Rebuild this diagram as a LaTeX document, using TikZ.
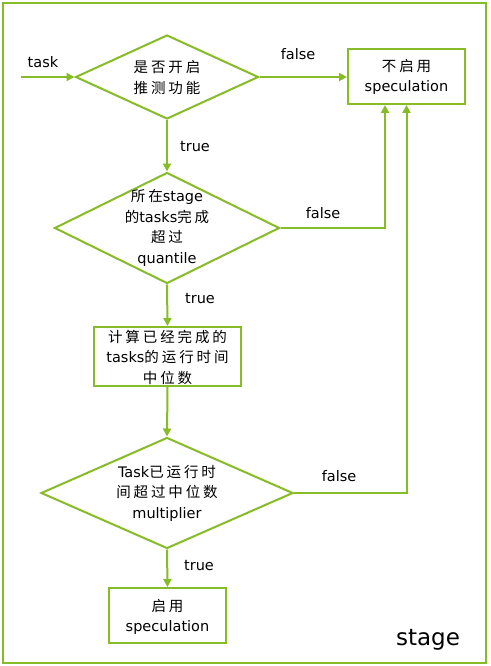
\documentclass[tikz,border=0pt]{standalone}
\usepackage{fontspec}
\setmainfont{DejaVu Sans}
\newfontfamily\cjk[LetterSpace=20]{Noto Sans CJK SC}
\usetikzlibrary{arrows.meta,shapes.geometric}
\definecolor{ngreen}{RGB}{134,188,37}
\begin{document}
\begin{tikzpicture}[x=1pt,y=-1pt,
  line width=2pt,
  every node/.style={font=\fontsize{14.5pt}{20.5pt}\selectfont},
  dia/.style={draw=ngreen,shape=diamond,inner sep=0pt,line width=2pt},
  box/.style={draw=ngreen,rectangle,inner sep=0pt,line width=2pt},
  txt/.style={align=center,inner sep=0pt},
  lbl/.style={inner sep=0pt},
  arr/.style={draw=ngreen,-{Triangle[length=8pt,width=8pt]}},
  ln/.style={draw=ngreen}
]
\useasboundingbox (0,0) rectangle (490,666);
\draw[ngreen,line width=2pt] (3,3) rectangle (486,663);

\node[dia,minimum width=183pt,minimum height=84pt] (d1) at (167,77) {};
\node[txt] (t1) at (167,77.5) {{\cjk 是否开启}\\{\cjk 推测功能}};

\node[box,minimum width=117pt,minimum height=55pt] (b1) at (406.5,76.5) {};
\node[txt] (tb1) at (406.5,77) {{\cjk 不启用}\\speculation};

\node[dia,minimum width=225pt,minimum height=111pt] (d2) at (167,228) {};
\node[txt] (t2) at (167,228) {{\cjk 所在}stage\\{\cjk 的}tasks{\cjk 完成}\\{\cjk 超过}\\quantile};

\node[box,minimum width=147pt,minimum height=59pt] (b3) at (167.5,356.5) {};
\node[txt] (tb3) at (167.5,357) {{\cjk 计算已经完成的}\\tasks{\cjk 的运行时间}\\{\cjk 中位数}};

\node[dia,minimum width=252pt,minimum height=111pt] (d3) at (167,493) {};
\node[txt] (t3) at (167,493) {Task{\cjk 已运行时}\\{\cjk 间超过中位数}\\multiplier};

\node[box,minimum width=117pt,minimum height=55pt] (b4) at (167.5,615.5) {};
\node[txt] (tb4) at (167.5,617) {{\cjk 启用}\\speculation};

\coordinate (start) at (21,77);
\draw[arr] (start) -- (d1.west);
\draw[arr] (d1.east) -- (d1.east -| b1.west);
\draw[arr] (d1.south) -- (d2.north);
\draw[arr] (d2.east) -| ([xshift=-21.5pt]b1.south);
\draw[arr] (d2.south) -- (b3.north);
\draw[arr] (b3.south) -- (d3.north);
\draw[arr] (d3.east) -| (b1.south);
\draw[arr] (d3.south) -- (b4.north);

\node[lbl] (ltask) at (43,62) {task};
\node[lbl] (lf1) at (298,54) {false};
\node[lbl] (lt1) at (195,147) {true};
\node[lbl] (lf2) at (323,213) {false};
\node[lbl] (lt2) at (200,299) {true};
\node[lbl] (lf3) at (339,476) {false};
\node[lbl] (lt3) at (199,566) {true};
\node[lbl,font=\fontsize{23pt}{26pt}\selectfont] (lstage) at (428,640) {stage};
\end{tikzpicture}
\end{document}
